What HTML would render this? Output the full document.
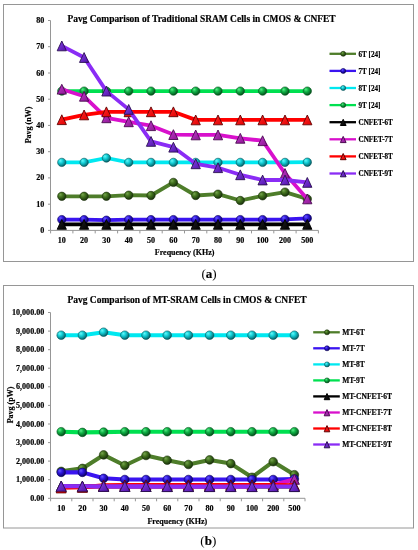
<!DOCTYPE html><html><head><meta charset="utf-8"><title>Pavg Comparison</title>
<style>html,body{margin:0;padding:0;background:#fff}svg{display:block}text{font-family:"Liberation Serif",serif;fill:#000}.b{font-weight:bold;stroke:#000;stroke-width:0.18px}</style></head><body>
<svg width="418" height="550" viewBox="0 0 418 550">
<defs>
<radialGradient id="s6" cx="0.38" cy="0.36" r="0.7" fx="0.33" fy="0.3"><stop offset="0" stop-color="#76a450"/><stop offset="0.38" stop-color="#44741f"/><stop offset="0.75" stop-color="#264812"/><stop offset="1" stop-color="#142808"/></radialGradient>
<radialGradient id="s7" cx="0.38" cy="0.36" r="0.7" fx="0.33" fy="0.3"><stop offset="0" stop-color="#6a5aff"/><stop offset="0.38" stop-color="#3018e0"/><stop offset="0.75" stop-color="#180890"/><stop offset="1" stop-color="#080240"/></radialGradient>
<radialGradient id="s8" cx="0.38" cy="0.36" r="0.7" fx="0.33" fy="0.3"><stop offset="0" stop-color="#66f8f8"/><stop offset="0.38" stop-color="#14d0d8"/><stop offset="0.75" stop-color="#0a8890"/><stop offset="1" stop-color="#044850"/></radialGradient>
<radialGradient id="s9" cx="0.38" cy="0.36" r="0.7" fx="0.33" fy="0.3"><stop offset="0" stop-color="#5cec8a"/><stop offset="0.38" stop-color="#10b446"/><stop offset="0.75" stop-color="#08702a"/><stop offset="1" stop-color="#043412"/></radialGradient>
<linearGradient id="t6" x1="0" y1="0" x2="1" y2="1"><stop offset="0" stop-color="#222"/><stop offset="1" stop-color="#000"/></linearGradient>
<linearGradient id="t7" x1="0" y1="0" x2="1" y2="1"><stop offset="0" stop-color="#c53bd0"/><stop offset="1" stop-color="#8a1590"/></linearGradient>
<linearGradient id="t8" x1="0" y1="0" x2="1" y2="1"><stop offset="0" stop-color="#ff2a2a"/><stop offset="1" stop-color="#e00000"/></linearGradient>
<linearGradient id="t9" x1="0" y1="0" x2="1" y2="1"><stop offset="0" stop-color="#8844e8"/><stop offset="1" stop-color="#5012a8"/></linearGradient>
</defs>
<rect width="418" height="550" fill="#fff"/>
<rect x="3.5" y="4.5" width="410.0" height="257.0" fill="#fff" stroke="#969696" stroke-width="1"/>
<text class="b" x="67.4" y="22.1" font-size="9.46">Pavg Comparison of Traditional SRAM Cells in CMOS &amp; CNFET</text>
<path d="M50.5 20.5V230.4H318.4" fill="none" stroke="#969696" stroke-width="1"/>
<path d="M48.0 230.4H50.5" stroke="#969696" stroke-width="1"/>
<text class="b" x="44.3" y="232.9" font-size="8.1" text-anchor="end">0</text>
<path d="M48.0 204.2H50.5" stroke="#969696" stroke-width="1"/>
<text class="b" x="44.3" y="206.7" font-size="8.1" text-anchor="end">10</text>
<path d="M48.0 177.9H50.5" stroke="#969696" stroke-width="1"/>
<text class="b" x="44.3" y="180.4" font-size="8.1" text-anchor="end">20</text>
<path d="M48.0 151.7H50.5" stroke="#969696" stroke-width="1"/>
<text class="b" x="44.3" y="154.2" font-size="8.1" text-anchor="end">30</text>
<path d="M48.0 125.4H50.5" stroke="#969696" stroke-width="1"/>
<text class="b" x="44.3" y="127.9" font-size="8.1" text-anchor="end">40</text>
<path d="M48.0 99.2H50.5" stroke="#969696" stroke-width="1"/>
<text class="b" x="44.3" y="101.7" font-size="8.1" text-anchor="end">50</text>
<path d="M48.0 73.0H50.5" stroke="#969696" stroke-width="1"/>
<text class="b" x="44.3" y="75.5" font-size="8.1" text-anchor="end">60</text>
<path d="M48.0 46.7H50.5" stroke="#969696" stroke-width="1"/>
<text class="b" x="44.3" y="49.2" font-size="8.1" text-anchor="end">70</text>
<path d="M48.0 20.5H50.5" stroke="#969696" stroke-width="1"/>
<text class="b" x="44.3" y="23.0" font-size="8.1" text-anchor="end">80</text>
<path d="M50.6 230.4v3" stroke="#969696" stroke-width="1"/>
<path d="M72.9 230.4v3" stroke="#969696" stroke-width="1"/>
<path d="M95.2 230.4v3" stroke="#969696" stroke-width="1"/>
<path d="M117.6 230.4v3" stroke="#969696" stroke-width="1"/>
<path d="M139.9 230.4v3" stroke="#969696" stroke-width="1"/>
<path d="M162.2 230.4v3" stroke="#969696" stroke-width="1"/>
<path d="M184.5 230.4v3" stroke="#969696" stroke-width="1"/>
<path d="M206.8 230.4v3" stroke="#969696" stroke-width="1"/>
<path d="M229.2 230.4v3" stroke="#969696" stroke-width="1"/>
<path d="M251.5 230.4v3" stroke="#969696" stroke-width="1"/>
<path d="M273.8 230.4v3" stroke="#969696" stroke-width="1"/>
<path d="M296.1 230.4v3" stroke="#969696" stroke-width="1"/>
<path d="M318.4 230.4v3" stroke="#969696" stroke-width="1"/>
<text class="b" x="61.8" y="242.9" font-size="8.1" text-anchor="middle">10</text>
<text class="b" x="84.1" y="242.9" font-size="8.1" text-anchor="middle">20</text>
<text class="b" x="106.4" y="242.9" font-size="8.1" text-anchor="middle">30</text>
<text class="b" x="128.7" y="242.9" font-size="8.1" text-anchor="middle">40</text>
<text class="b" x="151.0" y="242.9" font-size="8.1" text-anchor="middle">50</text>
<text class="b" x="173.4" y="242.9" font-size="8.1" text-anchor="middle">60</text>
<text class="b" x="195.7" y="242.9" font-size="8.1" text-anchor="middle">70</text>
<text class="b" x="218.0" y="242.9" font-size="8.1" text-anchor="middle">80</text>
<text class="b" x="240.3" y="242.9" font-size="8.1" text-anchor="middle">90</text>
<text class="b" x="262.6" y="242.9" font-size="8.1" text-anchor="middle">100</text>
<text class="b" x="285.0" y="242.9" font-size="8.1" text-anchor="middle">200</text>
<text class="b" x="307.3" y="242.9" font-size="8.1" text-anchor="middle">500</text>
<text class="b" x="184.6" y="255.1" font-size="8" text-anchor="middle">Frequency (KHz)</text>
<text class="b" transform="translate(31 125) rotate(-90)" font-size="8" text-anchor="middle">Pavg (nW)</text>
<path d="M61.8 196.3L84.1 196.3L106.4 196.3L128.7 195.2L151.0 195.5L173.4 182.4L195.7 195.5L218.0 194.2L240.3 200.5L262.6 195.8L285.0 192.1L307.3 198.9" fill="none" stroke="#4e7d2a" stroke-width="3.8" stroke-linejoin="round" stroke-linecap="round"/>
<circle cx="61.8" cy="196.3" r="4.2" fill="url(#s6)" stroke="#1c300c" stroke-width="0.6"/>
<circle cx="84.1" cy="196.3" r="4.2" fill="url(#s6)" stroke="#1c300c" stroke-width="0.6"/>
<circle cx="106.4" cy="196.3" r="4.2" fill="url(#s6)" stroke="#1c300c" stroke-width="0.6"/>
<circle cx="128.7" cy="195.2" r="4.2" fill="url(#s6)" stroke="#1c300c" stroke-width="0.6"/>
<circle cx="151.0" cy="195.5" r="4.2" fill="url(#s6)" stroke="#1c300c" stroke-width="0.6"/>
<circle cx="173.4" cy="182.4" r="4.2" fill="url(#s6)" stroke="#1c300c" stroke-width="0.6"/>
<circle cx="195.7" cy="195.5" r="4.2" fill="url(#s6)" stroke="#1c300c" stroke-width="0.6"/>
<circle cx="218.0" cy="194.2" r="4.2" fill="url(#s6)" stroke="#1c300c" stroke-width="0.6"/>
<circle cx="240.3" cy="200.5" r="4.2" fill="url(#s6)" stroke="#1c300c" stroke-width="0.6"/>
<circle cx="262.6" cy="195.8" r="4.2" fill="url(#s6)" stroke="#1c300c" stroke-width="0.6"/>
<circle cx="285.0" cy="192.1" r="4.2" fill="url(#s6)" stroke="#1c300c" stroke-width="0.6"/>
<circle cx="307.3" cy="198.9" r="4.2" fill="url(#s6)" stroke="#1c300c" stroke-width="0.6"/>
<path d="M61.8 219.6L84.1 219.6L106.4 220.2L128.7 219.6L151.0 219.6L173.4 219.6L195.7 219.6L218.0 219.6L240.3 219.6L262.6 219.6L285.0 219.4L307.3 218.3" fill="none" stroke="#3a14f0" stroke-width="3.8" stroke-linejoin="round" stroke-linecap="round"/>
<circle cx="61.8" cy="219.6" r="4.2" fill="url(#s7)" stroke="#0c0460" stroke-width="0.6"/>
<circle cx="84.1" cy="219.6" r="4.2" fill="url(#s7)" stroke="#0c0460" stroke-width="0.6"/>
<circle cx="106.4" cy="220.2" r="4.2" fill="url(#s7)" stroke="#0c0460" stroke-width="0.6"/>
<circle cx="128.7" cy="219.6" r="4.2" fill="url(#s7)" stroke="#0c0460" stroke-width="0.6"/>
<circle cx="151.0" cy="219.6" r="4.2" fill="url(#s7)" stroke="#0c0460" stroke-width="0.6"/>
<circle cx="173.4" cy="219.6" r="4.2" fill="url(#s7)" stroke="#0c0460" stroke-width="0.6"/>
<circle cx="195.7" cy="219.6" r="4.2" fill="url(#s7)" stroke="#0c0460" stroke-width="0.6"/>
<circle cx="218.0" cy="219.6" r="4.2" fill="url(#s7)" stroke="#0c0460" stroke-width="0.6"/>
<circle cx="240.3" cy="219.6" r="4.2" fill="url(#s7)" stroke="#0c0460" stroke-width="0.6"/>
<circle cx="262.6" cy="219.6" r="4.2" fill="url(#s7)" stroke="#0c0460" stroke-width="0.6"/>
<circle cx="285.0" cy="219.4" r="4.2" fill="url(#s7)" stroke="#0c0460" stroke-width="0.6"/>
<circle cx="307.3" cy="218.3" r="4.2" fill="url(#s7)" stroke="#0c0460" stroke-width="0.6"/>
<path d="M61.8 162.4L84.1 162.4L106.4 158.0L128.7 162.4L151.0 162.4L173.4 162.4L195.7 162.4L218.0 162.4L240.3 162.4L262.6 162.4L285.0 162.4L307.3 162.2" fill="none" stroke="#00e8f0" stroke-width="3.8" stroke-linejoin="round" stroke-linecap="round"/>
<circle cx="61.8" cy="162.4" r="4.2" fill="url(#s8)" stroke="#065a60" stroke-width="0.6"/>
<circle cx="84.1" cy="162.4" r="4.2" fill="url(#s8)" stroke="#065a60" stroke-width="0.6"/>
<circle cx="106.4" cy="158.0" r="4.2" fill="url(#s8)" stroke="#065a60" stroke-width="0.6"/>
<circle cx="128.7" cy="162.4" r="4.2" fill="url(#s8)" stroke="#065a60" stroke-width="0.6"/>
<circle cx="151.0" cy="162.4" r="4.2" fill="url(#s8)" stroke="#065a60" stroke-width="0.6"/>
<circle cx="173.4" cy="162.4" r="4.2" fill="url(#s8)" stroke="#065a60" stroke-width="0.6"/>
<circle cx="195.7" cy="162.4" r="4.2" fill="url(#s8)" stroke="#065a60" stroke-width="0.6"/>
<circle cx="218.0" cy="162.4" r="4.2" fill="url(#s8)" stroke="#065a60" stroke-width="0.6"/>
<circle cx="240.3" cy="162.4" r="4.2" fill="url(#s8)" stroke="#065a60" stroke-width="0.6"/>
<circle cx="262.6" cy="162.4" r="4.2" fill="url(#s8)" stroke="#065a60" stroke-width="0.6"/>
<circle cx="285.0" cy="162.4" r="4.2" fill="url(#s8)" stroke="#065a60" stroke-width="0.6"/>
<circle cx="307.3" cy="162.2" r="4.2" fill="url(#s8)" stroke="#065a60" stroke-width="0.6"/>
<path d="M61.8 91.1L84.1 91.1L106.4 91.1L128.7 91.1L151.0 91.1L173.4 91.1L195.7 91.1L218.0 91.1L240.3 91.1L262.6 91.1L285.0 91.1L307.3 91.1" fill="none" stroke="#00e050" stroke-width="3.8" stroke-linejoin="round" stroke-linecap="round"/>
<circle cx="61.8" cy="91.1" r="4.2" fill="url(#s9)" stroke="#075a20" stroke-width="0.6"/>
<circle cx="84.1" cy="91.1" r="4.2" fill="url(#s9)" stroke="#075a20" stroke-width="0.6"/>
<circle cx="106.4" cy="91.1" r="4.2" fill="url(#s9)" stroke="#075a20" stroke-width="0.6"/>
<circle cx="128.7" cy="91.1" r="4.2" fill="url(#s9)" stroke="#075a20" stroke-width="0.6"/>
<circle cx="151.0" cy="91.1" r="4.2" fill="url(#s9)" stroke="#075a20" stroke-width="0.6"/>
<circle cx="173.4" cy="91.1" r="4.2" fill="url(#s9)" stroke="#075a20" stroke-width="0.6"/>
<circle cx="195.7" cy="91.1" r="4.2" fill="url(#s9)" stroke="#075a20" stroke-width="0.6"/>
<circle cx="218.0" cy="91.1" r="4.2" fill="url(#s9)" stroke="#075a20" stroke-width="0.6"/>
<circle cx="240.3" cy="91.1" r="4.2" fill="url(#s9)" stroke="#075a20" stroke-width="0.6"/>
<circle cx="262.6" cy="91.1" r="4.2" fill="url(#s9)" stroke="#075a20" stroke-width="0.6"/>
<circle cx="285.0" cy="91.1" r="4.2" fill="url(#s9)" stroke="#075a20" stroke-width="0.6"/>
<circle cx="307.3" cy="91.1" r="4.2" fill="url(#s9)" stroke="#075a20" stroke-width="0.6"/>
<path d="M61.8 224.4L84.1 224.4L106.4 224.4L128.7 224.4L151.0 224.4L173.4 224.4L195.7 224.4L218.0 224.4L240.3 224.4L262.6 224.4L285.0 224.4L307.3 224.4" fill="none" stroke="#000000" stroke-width="3.8" stroke-linejoin="round" stroke-linecap="round"/>
<path d="M61.8 219.5L66.4 229.3L57.2 229.3Z" fill="url(#t6)" stroke="#000" stroke-width="0.9" stroke-linejoin="miter"/>
<path d="M84.1 219.5L88.7 229.3L79.5 229.3Z" fill="url(#t6)" stroke="#000" stroke-width="0.9" stroke-linejoin="miter"/>
<path d="M106.4 219.5L111.0 229.3L101.8 229.3Z" fill="url(#t6)" stroke="#000" stroke-width="0.9" stroke-linejoin="miter"/>
<path d="M128.7 219.5L133.3 229.3L124.1 229.3Z" fill="url(#t6)" stroke="#000" stroke-width="0.9" stroke-linejoin="miter"/>
<path d="M151.0 219.5L155.6 229.3L146.4 229.3Z" fill="url(#t6)" stroke="#000" stroke-width="0.9" stroke-linejoin="miter"/>
<path d="M173.4 219.5L178.0 229.3L168.8 229.3Z" fill="url(#t6)" stroke="#000" stroke-width="0.9" stroke-linejoin="miter"/>
<path d="M195.7 219.5L200.3 229.3L191.1 229.3Z" fill="url(#t6)" stroke="#000" stroke-width="0.9" stroke-linejoin="miter"/>
<path d="M218.0 219.5L222.6 229.3L213.4 229.3Z" fill="url(#t6)" stroke="#000" stroke-width="0.9" stroke-linejoin="miter"/>
<path d="M240.3 219.5L244.9 229.3L235.7 229.3Z" fill="url(#t6)" stroke="#000" stroke-width="0.9" stroke-linejoin="miter"/>
<path d="M262.6 219.5L267.2 229.3L258.0 229.3Z" fill="url(#t6)" stroke="#000" stroke-width="0.9" stroke-linejoin="miter"/>
<path d="M285.0 219.5L289.6 229.3L280.4 229.3Z" fill="url(#t6)" stroke="#000" stroke-width="0.9" stroke-linejoin="miter"/>
<path d="M307.3 219.5L311.9 229.3L302.7 229.3Z" fill="url(#t6)" stroke="#000" stroke-width="0.9" stroke-linejoin="miter"/>
<path d="M61.8 89.2L84.1 96.3L106.4 117.8L128.7 121.8L151.0 125.7L173.4 134.6L195.7 134.9L218.0 134.9L240.3 138.3L262.6 140.7L285.0 173.5L307.3 198.9" fill="none" stroke="#d810cc" stroke-width="3.8" stroke-linejoin="round" stroke-linecap="round"/>
<path d="M61.8 84.3L66.4 94.1L57.2 94.1Z" fill="url(#t7)" stroke="#4a0a50" stroke-width="0.9" stroke-linejoin="miter"/>
<path d="M84.1 91.4L88.7 101.2L79.5 101.2Z" fill="url(#t7)" stroke="#4a0a50" stroke-width="0.9" stroke-linejoin="miter"/>
<path d="M106.4 112.9L111.0 122.7L101.8 122.7Z" fill="url(#t7)" stroke="#4a0a50" stroke-width="0.9" stroke-linejoin="miter"/>
<path d="M128.7 116.9L133.3 126.7L124.1 126.7Z" fill="url(#t7)" stroke="#4a0a50" stroke-width="0.9" stroke-linejoin="miter"/>
<path d="M151.0 120.8L155.6 130.6L146.4 130.6Z" fill="url(#t7)" stroke="#4a0a50" stroke-width="0.9" stroke-linejoin="miter"/>
<path d="M173.4 129.7L178.0 139.5L168.8 139.5Z" fill="url(#t7)" stroke="#4a0a50" stroke-width="0.9" stroke-linejoin="miter"/>
<path d="M195.7 130.0L200.3 139.8L191.1 139.8Z" fill="url(#t7)" stroke="#4a0a50" stroke-width="0.9" stroke-linejoin="miter"/>
<path d="M218.0 130.0L222.6 139.8L213.4 139.8Z" fill="url(#t7)" stroke="#4a0a50" stroke-width="0.9" stroke-linejoin="miter"/>
<path d="M240.3 133.4L244.9 143.2L235.7 143.2Z" fill="url(#t7)" stroke="#4a0a50" stroke-width="0.9" stroke-linejoin="miter"/>
<path d="M262.6 135.8L267.2 145.6L258.0 145.6Z" fill="url(#t7)" stroke="#4a0a50" stroke-width="0.9" stroke-linejoin="miter"/>
<path d="M285.0 168.6L289.6 178.4L280.4 178.4Z" fill="url(#t7)" stroke="#4a0a50" stroke-width="0.9" stroke-linejoin="miter"/>
<path d="M307.3 194.0L311.9 203.8L302.7 203.8Z" fill="url(#t7)" stroke="#4a0a50" stroke-width="0.9" stroke-linejoin="miter"/>
<path d="M61.8 119.7L84.1 114.9L106.4 111.8L128.7 111.8L151.0 111.8L173.4 111.8L195.7 119.9L218.0 119.9L240.3 119.9L262.6 119.9L285.0 119.9L307.3 119.9" fill="none" stroke="#ff0000" stroke-width="3.8" stroke-linejoin="round" stroke-linecap="round"/>
<path d="M61.8 114.8L66.4 124.6L57.2 124.6Z" fill="url(#t8)" stroke="#600000" stroke-width="0.9" stroke-linejoin="miter"/>
<path d="M84.1 110.0L88.7 119.8L79.5 119.8Z" fill="url(#t8)" stroke="#600000" stroke-width="0.9" stroke-linejoin="miter"/>
<path d="M106.4 106.9L111.0 116.7L101.8 116.7Z" fill="url(#t8)" stroke="#600000" stroke-width="0.9" stroke-linejoin="miter"/>
<path d="M128.7 106.9L133.3 116.7L124.1 116.7Z" fill="url(#t8)" stroke="#600000" stroke-width="0.9" stroke-linejoin="miter"/>
<path d="M151.0 106.9L155.6 116.7L146.4 116.7Z" fill="url(#t8)" stroke="#600000" stroke-width="0.9" stroke-linejoin="miter"/>
<path d="M173.4 106.9L178.0 116.7L168.8 116.7Z" fill="url(#t8)" stroke="#600000" stroke-width="0.9" stroke-linejoin="miter"/>
<path d="M195.7 115.0L200.3 124.8L191.1 124.8Z" fill="url(#t8)" stroke="#600000" stroke-width="0.9" stroke-linejoin="miter"/>
<path d="M218.0 115.0L222.6 124.8L213.4 124.8Z" fill="url(#t8)" stroke="#600000" stroke-width="0.9" stroke-linejoin="miter"/>
<path d="M240.3 115.0L244.9 124.8L235.7 124.8Z" fill="url(#t8)" stroke="#600000" stroke-width="0.9" stroke-linejoin="miter"/>
<path d="M262.6 115.0L267.2 124.8L258.0 124.8Z" fill="url(#t8)" stroke="#600000" stroke-width="0.9" stroke-linejoin="miter"/>
<path d="M285.0 115.0L289.6 124.8L280.4 124.8Z" fill="url(#t8)" stroke="#600000" stroke-width="0.9" stroke-linejoin="miter"/>
<path d="M307.3 115.0L311.9 124.8L302.7 124.8Z" fill="url(#t8)" stroke="#600000" stroke-width="0.9" stroke-linejoin="miter"/>
<path d="M61.8 45.9L84.1 57.5L106.4 91.1L128.7 109.4L151.0 141.4L173.4 147.2L195.7 163.8L218.0 167.7L240.3 174.8L262.6 180.0L285.0 180.0L307.3 182.4" fill="none" stroke="#8a2cf5" stroke-width="3.8" stroke-linejoin="round" stroke-linecap="round"/>
<path d="M61.8 41.0L66.4 50.8L57.2 50.8Z" fill="url(#t9)" stroke="#2a1050" stroke-width="0.9" stroke-linejoin="miter"/>
<path d="M84.1 52.6L88.7 62.4L79.5 62.4Z" fill="url(#t9)" stroke="#2a1050" stroke-width="0.9" stroke-linejoin="miter"/>
<path d="M106.4 86.2L111.0 96.0L101.8 96.0Z" fill="url(#t9)" stroke="#2a1050" stroke-width="0.9" stroke-linejoin="miter"/>
<path d="M128.7 104.5L133.3 114.3L124.1 114.3Z" fill="url(#t9)" stroke="#2a1050" stroke-width="0.9" stroke-linejoin="miter"/>
<path d="M151.0 136.5L155.6 146.3L146.4 146.3Z" fill="url(#t9)" stroke="#2a1050" stroke-width="0.9" stroke-linejoin="miter"/>
<path d="M173.4 142.3L178.0 152.1L168.8 152.1Z" fill="url(#t9)" stroke="#2a1050" stroke-width="0.9" stroke-linejoin="miter"/>
<path d="M195.7 158.9L200.3 168.7L191.1 168.7Z" fill="url(#t9)" stroke="#2a1050" stroke-width="0.9" stroke-linejoin="miter"/>
<path d="M218.0 162.8L222.6 172.6L213.4 172.6Z" fill="url(#t9)" stroke="#2a1050" stroke-width="0.9" stroke-linejoin="miter"/>
<path d="M240.3 169.9L244.9 179.7L235.7 179.7Z" fill="url(#t9)" stroke="#2a1050" stroke-width="0.9" stroke-linejoin="miter"/>
<path d="M262.6 175.1L267.2 184.9L258.0 184.9Z" fill="url(#t9)" stroke="#2a1050" stroke-width="0.9" stroke-linejoin="miter"/>
<path d="M285.0 175.1L289.6 184.9L280.4 184.9Z" fill="url(#t9)" stroke="#2a1050" stroke-width="0.9" stroke-linejoin="miter"/>
<path d="M307.3 177.5L311.9 187.3L302.7 187.3Z" fill="url(#t9)" stroke="#2a1050" stroke-width="0.9" stroke-linejoin="miter"/>
<path d="M329.5 53.8H356" stroke="#4e7d2a" stroke-width="2.3"/>
<circle cx="343.2" cy="53.8" r="2.5" fill="url(#s6)" stroke="#1c300c" stroke-width="0.6"/>
<text class="b" transform="translate(358.5 56.6) scale(0.957 1)" font-size="7.5">6T [24]</text>
<path d="M329.5 70.9H356" stroke="#3a14f0" stroke-width="2.3"/>
<circle cx="343.2" cy="70.9" r="2.5" fill="url(#s7)" stroke="#0c0460" stroke-width="0.6"/>
<text class="b" transform="translate(358.5 73.7) scale(0.957 1)" font-size="7.5">7T [24]</text>
<path d="M329.5 88.0H356" stroke="#00e8f0" stroke-width="2.3"/>
<circle cx="343.2" cy="88.0" r="2.5" fill="url(#s8)" stroke="#065a60" stroke-width="0.6"/>
<text class="b" transform="translate(358.5 90.8) scale(0.957 1)" font-size="7.5">8T [24]</text>
<path d="M329.5 105.1H356" stroke="#00e050" stroke-width="2.3"/>
<circle cx="343.2" cy="105.1" r="2.5" fill="url(#s9)" stroke="#075a20" stroke-width="0.6"/>
<text class="b" transform="translate(358.5 107.9) scale(0.957 1)" font-size="7.5">9T [24]</text>
<path d="M329.5 122.2H356" stroke="#000000" stroke-width="2.3"/>
<path d="M343.2 119.3L346.1 125.5L340.4 125.5Z" fill="url(#t6)" stroke="#000" stroke-width="1.0" stroke-linejoin="miter"/>
<text class="b" transform="translate(358.5 125.0) scale(0.957 1)" font-size="7.5">CNFET-6T</text>
<path d="M329.5 139.3H356" stroke="#d810cc" stroke-width="2.3"/>
<path d="M343.2 136.4L346.1 142.6L340.4 142.6Z" fill="url(#t7)" stroke="#4a0a50" stroke-width="1.0" stroke-linejoin="miter"/>
<text class="b" transform="translate(358.5 142.1) scale(0.957 1)" font-size="7.5">CNFET-7T</text>
<path d="M329.5 156.4H356" stroke="#ff0000" stroke-width="2.3"/>
<path d="M343.2 153.5L346.1 159.7L340.4 159.7Z" fill="url(#t8)" stroke="#600000" stroke-width="1.0" stroke-linejoin="miter"/>
<text class="b" transform="translate(358.5 159.2) scale(0.957 1)" font-size="7.5">CNFET-8T</text>
<path d="M329.5 173.5H356" stroke="#8a2cf5" stroke-width="2.3"/>
<path d="M343.2 170.6L346.1 176.8L340.4 176.8Z" fill="url(#t9)" stroke="#2a1050" stroke-width="1.0" stroke-linejoin="miter"/>
<text class="b" transform="translate(358.5 176.3) scale(0.957 1)" font-size="7.5">CNFET-9T</text>
<text x="209" y="278.4" font-size="13" text-anchor="middle">(<tspan class="b">a</tspan>)</text>
<rect x="3.5" y="285.5" width="410.0" height="242.5" fill="#fff" stroke="#969696" stroke-width="1"/>
<text class="b" x="67.4" y="302.8" font-size="9.5">Pavg Comparison of MT-SRAM Cells in CMOS &amp; CNFET</text>
<path d="M50.5 312.5V498.3H305.0" fill="none" stroke="#969696" stroke-width="1"/>
<path d="M48.0 498.3H50.5" stroke="#969696" stroke-width="1"/>
<text class="b" x="44.3" y="500.8" font-size="8.1" text-anchor="end">0.00</text>
<path d="M48.0 479.7H50.5" stroke="#969696" stroke-width="1"/>
<text class="b" x="44.3" y="482.2" font-size="8.1" text-anchor="end">1,000.00</text>
<path d="M48.0 461.1H50.5" stroke="#969696" stroke-width="1"/>
<text class="b" x="44.3" y="463.6" font-size="8.1" text-anchor="end">2,000.00</text>
<path d="M48.0 442.6H50.5" stroke="#969696" stroke-width="1"/>
<text class="b" x="44.3" y="445.1" font-size="8.1" text-anchor="end">3,000.00</text>
<path d="M48.0 424.0H50.5" stroke="#969696" stroke-width="1"/>
<text class="b" x="44.3" y="426.5" font-size="8.1" text-anchor="end">4,000.00</text>
<path d="M48.0 405.4H50.5" stroke="#969696" stroke-width="1"/>
<text class="b" x="44.3" y="407.9" font-size="8.1" text-anchor="end">5,000.00</text>
<path d="M48.0 386.8H50.5" stroke="#969696" stroke-width="1"/>
<text class="b" x="44.3" y="389.3" font-size="8.1" text-anchor="end">6,000.00</text>
<path d="M48.0 368.2H50.5" stroke="#969696" stroke-width="1"/>
<text class="b" x="44.3" y="370.7" font-size="8.1" text-anchor="end">7,000.00</text>
<path d="M48.0 349.7H50.5" stroke="#969696" stroke-width="1"/>
<text class="b" x="44.3" y="352.2" font-size="8.1" text-anchor="end">8,000.00</text>
<path d="M48.0 331.1H50.5" stroke="#969696" stroke-width="1"/>
<text class="b" x="44.3" y="333.6" font-size="8.1" text-anchor="end">9,000.00</text>
<path d="M48.0 312.5H50.5" stroke="#969696" stroke-width="1"/>
<text class="b" x="44.3" y="315.0" font-size="8.1" text-anchor="end">10,000.00</text>
<path d="M50.6 498.3v3" stroke="#969696" stroke-width="1"/>
<path d="M71.8 498.3v3" stroke="#969696" stroke-width="1"/>
<path d="M93.0 498.3v3" stroke="#969696" stroke-width="1"/>
<path d="M114.2 498.3v3" stroke="#969696" stroke-width="1"/>
<path d="M135.4 498.3v3" stroke="#969696" stroke-width="1"/>
<path d="M156.6 498.3v3" stroke="#969696" stroke-width="1"/>
<path d="M177.8 498.3v3" stroke="#969696" stroke-width="1"/>
<path d="M199.0 498.3v3" stroke="#969696" stroke-width="1"/>
<path d="M220.2 498.3v3" stroke="#969696" stroke-width="1"/>
<path d="M241.4 498.3v3" stroke="#969696" stroke-width="1"/>
<path d="M262.6 498.3v3" stroke="#969696" stroke-width="1"/>
<path d="M283.8 498.3v3" stroke="#969696" stroke-width="1"/>
<path d="M305.0 498.3v3" stroke="#969696" stroke-width="1"/>
<text class="b" x="61.2" y="511" font-size="8.1" text-anchor="middle">10</text>
<text class="b" x="82.4" y="511" font-size="8.1" text-anchor="middle">20</text>
<text class="b" x="103.6" y="511" font-size="8.1" text-anchor="middle">30</text>
<text class="b" x="124.8" y="511" font-size="8.1" text-anchor="middle">40</text>
<text class="b" x="146.0" y="511" font-size="8.1" text-anchor="middle">50</text>
<text class="b" x="167.2" y="511" font-size="8.1" text-anchor="middle">60</text>
<text class="b" x="188.4" y="511" font-size="8.1" text-anchor="middle">70</text>
<text class="b" x="209.6" y="511" font-size="8.1" text-anchor="middle">80</text>
<text class="b" x="230.8" y="511" font-size="8.1" text-anchor="middle">90</text>
<text class="b" x="252.0" y="511" font-size="8.1" text-anchor="middle">100</text>
<text class="b" x="273.2" y="511" font-size="8.1" text-anchor="middle">200</text>
<text class="b" x="294.4" y="511" font-size="8.1" text-anchor="middle">500</text>
<text class="b" x="177.3" y="523.7" font-size="8" text-anchor="middle">Frequency (KHz)</text>
<text class="b" transform="translate(13 405) rotate(-90)" font-size="8" text-anchor="middle">Pavg (pW)</text>
<path d="M61.2 471.4L82.4 468.4L103.6 454.9L124.8 465.5L146.0 455.5L167.2 460.2L188.4 464.5L209.6 459.9L230.8 463.6L252.0 477.3L273.2 461.7L294.4 474.7" fill="none" stroke="#4e7d2a" stroke-width="4.1" stroke-linejoin="round" stroke-linecap="round"/>
<circle cx="61.2" cy="471.4" r="4.3" fill="url(#s6)" stroke="#1c300c" stroke-width="0.6"/>
<circle cx="82.4" cy="468.4" r="4.3" fill="url(#s6)" stroke="#1c300c" stroke-width="0.6"/>
<circle cx="103.6" cy="454.9" r="4.3" fill="url(#s6)" stroke="#1c300c" stroke-width="0.6"/>
<circle cx="124.8" cy="465.5" r="4.3" fill="url(#s6)" stroke="#1c300c" stroke-width="0.6"/>
<circle cx="146.0" cy="455.5" r="4.3" fill="url(#s6)" stroke="#1c300c" stroke-width="0.6"/>
<circle cx="167.2" cy="460.2" r="4.3" fill="url(#s6)" stroke="#1c300c" stroke-width="0.6"/>
<circle cx="188.4" cy="464.5" r="4.3" fill="url(#s6)" stroke="#1c300c" stroke-width="0.6"/>
<circle cx="209.6" cy="459.9" r="4.3" fill="url(#s6)" stroke="#1c300c" stroke-width="0.6"/>
<circle cx="230.8" cy="463.6" r="4.3" fill="url(#s6)" stroke="#1c300c" stroke-width="0.6"/>
<circle cx="252.0" cy="477.3" r="4.3" fill="url(#s6)" stroke="#1c300c" stroke-width="0.6"/>
<circle cx="273.2" cy="461.7" r="4.3" fill="url(#s6)" stroke="#1c300c" stroke-width="0.6"/>
<circle cx="294.4" cy="474.7" r="4.3" fill="url(#s6)" stroke="#1c300c" stroke-width="0.6"/>
<path d="M61.2 472.4L82.4 472.4L103.6 478.3L124.8 479.5L146.0 479.5L167.2 479.5L188.4 479.5L209.6 479.5L230.8 479.5L252.0 479.5L273.2 479.5L294.4 479.0" fill="none" stroke="#3a14f0" stroke-width="4.1" stroke-linejoin="round" stroke-linecap="round"/>
<circle cx="61.2" cy="472.4" r="4.3" fill="url(#s7)" stroke="#0c0460" stroke-width="0.6"/>
<circle cx="82.4" cy="472.4" r="4.3" fill="url(#s7)" stroke="#0c0460" stroke-width="0.6"/>
<circle cx="103.6" cy="478.3" r="4.3" fill="url(#s7)" stroke="#0c0460" stroke-width="0.6"/>
<circle cx="124.8" cy="479.5" r="4.3" fill="url(#s7)" stroke="#0c0460" stroke-width="0.6"/>
<circle cx="146.0" cy="479.5" r="4.3" fill="url(#s7)" stroke="#0c0460" stroke-width="0.6"/>
<circle cx="167.2" cy="479.5" r="4.3" fill="url(#s7)" stroke="#0c0460" stroke-width="0.6"/>
<circle cx="188.4" cy="479.5" r="4.3" fill="url(#s7)" stroke="#0c0460" stroke-width="0.6"/>
<circle cx="209.6" cy="479.5" r="4.3" fill="url(#s7)" stroke="#0c0460" stroke-width="0.6"/>
<circle cx="230.8" cy="479.5" r="4.3" fill="url(#s7)" stroke="#0c0460" stroke-width="0.6"/>
<circle cx="252.0" cy="479.5" r="4.3" fill="url(#s7)" stroke="#0c0460" stroke-width="0.6"/>
<circle cx="273.2" cy="479.5" r="4.3" fill="url(#s7)" stroke="#0c0460" stroke-width="0.6"/>
<circle cx="294.4" cy="479.0" r="4.3" fill="url(#s7)" stroke="#0c0460" stroke-width="0.6"/>
<path d="M61.2 335.2L82.4 335.2L103.6 332.2L124.8 335.2L146.0 335.2L167.2 335.2L188.4 335.2L209.6 335.2L230.8 335.2L252.0 335.2L273.2 335.2L294.4 335.2" fill="none" stroke="#00e8f0" stroke-width="4.1" stroke-linejoin="round" stroke-linecap="round"/>
<circle cx="61.2" cy="335.2" r="4.3" fill="url(#s8)" stroke="#065a60" stroke-width="0.6"/>
<circle cx="82.4" cy="335.2" r="4.3" fill="url(#s8)" stroke="#065a60" stroke-width="0.6"/>
<circle cx="103.6" cy="332.2" r="4.3" fill="url(#s8)" stroke="#065a60" stroke-width="0.6"/>
<circle cx="124.8" cy="335.2" r="4.3" fill="url(#s8)" stroke="#065a60" stroke-width="0.6"/>
<circle cx="146.0" cy="335.2" r="4.3" fill="url(#s8)" stroke="#065a60" stroke-width="0.6"/>
<circle cx="167.2" cy="335.2" r="4.3" fill="url(#s8)" stroke="#065a60" stroke-width="0.6"/>
<circle cx="188.4" cy="335.2" r="4.3" fill="url(#s8)" stroke="#065a60" stroke-width="0.6"/>
<circle cx="209.6" cy="335.2" r="4.3" fill="url(#s8)" stroke="#065a60" stroke-width="0.6"/>
<circle cx="230.8" cy="335.2" r="4.3" fill="url(#s8)" stroke="#065a60" stroke-width="0.6"/>
<circle cx="252.0" cy="335.2" r="4.3" fill="url(#s8)" stroke="#065a60" stroke-width="0.6"/>
<circle cx="273.2" cy="335.2" r="4.3" fill="url(#s8)" stroke="#065a60" stroke-width="0.6"/>
<circle cx="294.4" cy="335.2" r="4.3" fill="url(#s8)" stroke="#065a60" stroke-width="0.6"/>
<path d="M61.2 431.7L82.4 432.4L103.6 432.1L124.8 431.7L146.0 431.7L167.2 431.7L188.4 431.7L209.6 431.7L230.8 431.7L252.0 431.7L273.2 431.7L294.4 431.7" fill="none" stroke="#00e050" stroke-width="4.1" stroke-linejoin="round" stroke-linecap="round"/>
<circle cx="61.2" cy="431.7" r="4.3" fill="url(#s9)" stroke="#075a20" stroke-width="0.6"/>
<circle cx="82.4" cy="432.4" r="4.3" fill="url(#s9)" stroke="#075a20" stroke-width="0.6"/>
<circle cx="103.6" cy="432.1" r="4.3" fill="url(#s9)" stroke="#075a20" stroke-width="0.6"/>
<circle cx="124.8" cy="431.7" r="4.3" fill="url(#s9)" stroke="#075a20" stroke-width="0.6"/>
<circle cx="146.0" cy="431.7" r="4.3" fill="url(#s9)" stroke="#075a20" stroke-width="0.6"/>
<circle cx="167.2" cy="431.7" r="4.3" fill="url(#s9)" stroke="#075a20" stroke-width="0.6"/>
<circle cx="188.4" cy="431.7" r="4.3" fill="url(#s9)" stroke="#075a20" stroke-width="0.6"/>
<circle cx="209.6" cy="431.7" r="4.3" fill="url(#s9)" stroke="#075a20" stroke-width="0.6"/>
<circle cx="230.8" cy="431.7" r="4.3" fill="url(#s9)" stroke="#075a20" stroke-width="0.6"/>
<circle cx="252.0" cy="431.7" r="4.3" fill="url(#s9)" stroke="#075a20" stroke-width="0.6"/>
<circle cx="273.2" cy="431.7" r="4.3" fill="url(#s9)" stroke="#075a20" stroke-width="0.6"/>
<circle cx="294.4" cy="431.7" r="4.3" fill="url(#s9)" stroke="#075a20" stroke-width="0.6"/>
<path d="M61.2 486.4L82.4 486.4L103.6 486.4L124.8 486.4L146.0 486.4L167.2 486.4L188.4 486.4L209.6 486.4L230.8 486.4L252.0 486.4L273.2 486.4L294.4 486.4" fill="none" stroke="#000000" stroke-width="4.1" stroke-linejoin="round" stroke-linecap="round"/>
<path d="M61.2 481.3L66.2 491.5L56.2 491.5Z" fill="url(#t6)" stroke="#000" stroke-width="0.9" stroke-linejoin="miter"/>
<path d="M82.4 481.3L87.4 491.5L77.4 491.5Z" fill="url(#t6)" stroke="#000" stroke-width="0.9" stroke-linejoin="miter"/>
<path d="M103.6 481.3L108.6 491.5L98.6 491.5Z" fill="url(#t6)" stroke="#000" stroke-width="0.9" stroke-linejoin="miter"/>
<path d="M124.8 481.3L129.8 491.5L119.8 491.5Z" fill="url(#t6)" stroke="#000" stroke-width="0.9" stroke-linejoin="miter"/>
<path d="M146.0 481.3L151.0 491.5L141.0 491.5Z" fill="url(#t6)" stroke="#000" stroke-width="0.9" stroke-linejoin="miter"/>
<path d="M167.2 481.3L172.2 491.5L162.2 491.5Z" fill="url(#t6)" stroke="#000" stroke-width="0.9" stroke-linejoin="miter"/>
<path d="M188.4 481.3L193.4 491.5L183.4 491.5Z" fill="url(#t6)" stroke="#000" stroke-width="0.9" stroke-linejoin="miter"/>
<path d="M209.6 481.3L214.6 491.5L204.6 491.5Z" fill="url(#t6)" stroke="#000" stroke-width="0.9" stroke-linejoin="miter"/>
<path d="M230.8 481.3L235.8 491.5L225.8 491.5Z" fill="url(#t6)" stroke="#000" stroke-width="0.9" stroke-linejoin="miter"/>
<path d="M252.0 481.3L257.0 491.5L247.0 491.5Z" fill="url(#t6)" stroke="#000" stroke-width="0.9" stroke-linejoin="miter"/>
<path d="M273.2 481.3L278.2 491.5L268.2 491.5Z" fill="url(#t6)" stroke="#000" stroke-width="0.9" stroke-linejoin="miter"/>
<path d="M294.4 481.3L299.4 491.5L289.4 491.5Z" fill="url(#t6)" stroke="#000" stroke-width="0.9" stroke-linejoin="miter"/>
<path d="M61.2 486.8L82.4 486.8L103.6 486.4L124.8 486.4L146.0 486.4L167.2 486.4L188.4 486.4L209.6 486.4L230.8 486.4L252.0 486.4L273.2 484.9L294.4 479.2" fill="none" stroke="#d810cc" stroke-width="4.1" stroke-linejoin="round" stroke-linecap="round"/>
<path d="M61.2 481.7L66.2 491.9L56.2 491.9Z" fill="url(#t7)" stroke="#4a0a50" stroke-width="0.9" stroke-linejoin="miter"/>
<path d="M82.4 481.7L87.4 491.9L77.4 491.9Z" fill="url(#t7)" stroke="#4a0a50" stroke-width="0.9" stroke-linejoin="miter"/>
<path d="M103.6 481.3L108.6 491.5L98.6 491.5Z" fill="url(#t7)" stroke="#4a0a50" stroke-width="0.9" stroke-linejoin="miter"/>
<path d="M124.8 481.3L129.8 491.5L119.8 491.5Z" fill="url(#t7)" stroke="#4a0a50" stroke-width="0.9" stroke-linejoin="miter"/>
<path d="M146.0 481.3L151.0 491.5L141.0 491.5Z" fill="url(#t7)" stroke="#4a0a50" stroke-width="0.9" stroke-linejoin="miter"/>
<path d="M167.2 481.3L172.2 491.5L162.2 491.5Z" fill="url(#t7)" stroke="#4a0a50" stroke-width="0.9" stroke-linejoin="miter"/>
<path d="M188.4 481.3L193.4 491.5L183.4 491.5Z" fill="url(#t7)" stroke="#4a0a50" stroke-width="0.9" stroke-linejoin="miter"/>
<path d="M209.6 481.3L214.6 491.5L204.6 491.5Z" fill="url(#t7)" stroke="#4a0a50" stroke-width="0.9" stroke-linejoin="miter"/>
<path d="M230.8 481.3L235.8 491.5L225.8 491.5Z" fill="url(#t7)" stroke="#4a0a50" stroke-width="0.9" stroke-linejoin="miter"/>
<path d="M252.0 481.3L257.0 491.5L247.0 491.5Z" fill="url(#t7)" stroke="#4a0a50" stroke-width="0.9" stroke-linejoin="miter"/>
<path d="M273.2 479.8L278.2 490.0L268.2 490.0Z" fill="url(#t7)" stroke="#4a0a50" stroke-width="0.9" stroke-linejoin="miter"/>
<path d="M294.4 474.1L299.4 484.3L289.4 484.3Z" fill="url(#t7)" stroke="#4a0a50" stroke-width="0.9" stroke-linejoin="miter"/>
<path d="M61.2 487.8L82.4 487.2L103.6 485.3L124.8 485.1L146.0 485.0L167.2 485.0L188.4 485.0L209.6 485.0L230.8 485.0L252.0 485.0L273.2 485.0L294.4 485.3" fill="none" stroke="#ff0000" stroke-width="4.1" stroke-linejoin="round" stroke-linecap="round"/>
<path d="M61.2 482.7L66.2 492.9L56.2 492.9Z" fill="url(#t8)" stroke="#600000" stroke-width="0.9" stroke-linejoin="miter"/>
<path d="M82.4 482.1L87.4 492.3L77.4 492.3Z" fill="url(#t8)" stroke="#600000" stroke-width="0.9" stroke-linejoin="miter"/>
<path d="M103.6 480.2L108.6 490.4L98.6 490.4Z" fill="url(#t8)" stroke="#600000" stroke-width="0.9" stroke-linejoin="miter"/>
<path d="M124.8 480.0L129.8 490.2L119.8 490.2Z" fill="url(#t8)" stroke="#600000" stroke-width="0.9" stroke-linejoin="miter"/>
<path d="M146.0 479.9L151.0 490.1L141.0 490.1Z" fill="url(#t8)" stroke="#600000" stroke-width="0.9" stroke-linejoin="miter"/>
<path d="M167.2 479.9L172.2 490.1L162.2 490.1Z" fill="url(#t8)" stroke="#600000" stroke-width="0.9" stroke-linejoin="miter"/>
<path d="M188.4 479.9L193.4 490.1L183.4 490.1Z" fill="url(#t8)" stroke="#600000" stroke-width="0.9" stroke-linejoin="miter"/>
<path d="M209.6 479.9L214.6 490.1L204.6 490.1Z" fill="url(#t8)" stroke="#600000" stroke-width="0.9" stroke-linejoin="miter"/>
<path d="M230.8 479.9L235.8 490.1L225.8 490.1Z" fill="url(#t8)" stroke="#600000" stroke-width="0.9" stroke-linejoin="miter"/>
<path d="M252.0 479.9L257.0 490.1L247.0 490.1Z" fill="url(#t8)" stroke="#600000" stroke-width="0.9" stroke-linejoin="miter"/>
<path d="M273.2 479.9L278.2 490.1L268.2 490.1Z" fill="url(#t8)" stroke="#600000" stroke-width="0.9" stroke-linejoin="miter"/>
<path d="M294.4 480.2L299.4 490.4L289.4 490.4Z" fill="url(#t8)" stroke="#600000" stroke-width="0.9" stroke-linejoin="miter"/>
<path d="M61.2 486.1L82.4 486.2L103.6 486.2L124.8 486.4L146.0 486.4L167.2 486.5L188.4 486.5L209.6 486.5L230.8 486.5L252.0 486.5L273.2 486.5L294.4 486.5" fill="none" stroke="#8a2cf5" stroke-width="4.1" stroke-linejoin="round" stroke-linecap="round"/>
<path d="M61.2 481.0L66.2 491.2L56.2 491.2Z" fill="url(#t9)" stroke="#2a1050" stroke-width="0.9" stroke-linejoin="miter"/>
<path d="M82.4 481.1L87.4 491.3L77.4 491.3Z" fill="url(#t9)" stroke="#2a1050" stroke-width="0.9" stroke-linejoin="miter"/>
<path d="M103.6 481.1L108.6 491.3L98.6 491.3Z" fill="url(#t9)" stroke="#2a1050" stroke-width="0.9" stroke-linejoin="miter"/>
<path d="M124.8 481.3L129.8 491.5L119.8 491.5Z" fill="url(#t9)" stroke="#2a1050" stroke-width="0.9" stroke-linejoin="miter"/>
<path d="M146.0 481.3L151.0 491.5L141.0 491.5Z" fill="url(#t9)" stroke="#2a1050" stroke-width="0.9" stroke-linejoin="miter"/>
<path d="M167.2 481.4L172.2 491.6L162.2 491.6Z" fill="url(#t9)" stroke="#2a1050" stroke-width="0.9" stroke-linejoin="miter"/>
<path d="M188.4 481.4L193.4 491.6L183.4 491.6Z" fill="url(#t9)" stroke="#2a1050" stroke-width="0.9" stroke-linejoin="miter"/>
<path d="M209.6 481.4L214.6 491.6L204.6 491.6Z" fill="url(#t9)" stroke="#2a1050" stroke-width="0.9" stroke-linejoin="miter"/>
<path d="M230.8 481.4L235.8 491.6L225.8 491.6Z" fill="url(#t9)" stroke="#2a1050" stroke-width="0.9" stroke-linejoin="miter"/>
<path d="M252.0 481.4L257.0 491.6L247.0 491.6Z" fill="url(#t9)" stroke="#2a1050" stroke-width="0.9" stroke-linejoin="miter"/>
<path d="M273.2 481.4L278.2 491.6L268.2 491.6Z" fill="url(#t9)" stroke="#2a1050" stroke-width="0.9" stroke-linejoin="miter"/>
<path d="M294.4 481.4L299.4 491.6L289.4 491.6Z" fill="url(#t9)" stroke="#2a1050" stroke-width="0.9" stroke-linejoin="miter"/>
<path d="M313.2 332.3H339.8" stroke="#4e7d2a" stroke-width="2.3"/>
<circle cx="327.0" cy="332.3" r="2.5" fill="url(#s6)" stroke="#1c300c" stroke-width="0.6"/>
<text class="b" transform="translate(342.2 335.1) scale(1 1)" font-size="7.5">MT-6T</text>
<path d="M313.2 348.3H339.8" stroke="#3a14f0" stroke-width="2.3"/>
<circle cx="327.0" cy="348.3" r="2.5" fill="url(#s7)" stroke="#0c0460" stroke-width="0.6"/>
<text class="b" transform="translate(342.2 351.1) scale(1 1)" font-size="7.5">MT-7T</text>
<path d="M313.2 364.4H339.8" stroke="#00e8f0" stroke-width="2.3"/>
<circle cx="327.0" cy="364.4" r="2.5" fill="url(#s8)" stroke="#065a60" stroke-width="0.6"/>
<text class="b" transform="translate(342.2 367.2) scale(1 1)" font-size="7.5">MT-8T</text>
<path d="M313.2 380.4H339.8" stroke="#00e050" stroke-width="2.3"/>
<circle cx="327.0" cy="380.4" r="2.5" fill="url(#s9)" stroke="#075a20" stroke-width="0.6"/>
<text class="b" transform="translate(342.2 383.2) scale(1 1)" font-size="7.5">MT-9T</text>
<path d="M313.2 396.4H339.8" stroke="#000000" stroke-width="2.3"/>
<path d="M327.0 393.5L329.8 399.7L324.2 399.7Z" fill="url(#t6)" stroke="#000" stroke-width="1.0" stroke-linejoin="miter"/>
<text class="b" transform="translate(342.2 399.2) scale(1 1)" font-size="7.5">MT-CNFET-6T</text>
<path d="M313.2 412.5H339.8" stroke="#d810cc" stroke-width="2.3"/>
<path d="M327.0 409.6L329.8 415.8L324.2 415.8Z" fill="url(#t7)" stroke="#4a0a50" stroke-width="1.0" stroke-linejoin="miter"/>
<text class="b" transform="translate(342.2 415.3) scale(1 1)" font-size="7.5">MT-CNFET-7T</text>
<path d="M313.2 428.5H339.8" stroke="#ff0000" stroke-width="2.3"/>
<path d="M327.0 425.6L329.8 431.8L324.2 431.8Z" fill="url(#t8)" stroke="#600000" stroke-width="1.0" stroke-linejoin="miter"/>
<text class="b" transform="translate(342.2 431.3) scale(1 1)" font-size="7.5">MT-CNFET-8T</text>
<path d="M313.2 444.5H339.8" stroke="#8a2cf5" stroke-width="2.3"/>
<path d="M327.0 441.6L329.8 447.8L324.2 447.8Z" fill="url(#t9)" stroke="#2a1050" stroke-width="1.0" stroke-linejoin="miter"/>
<text class="b" transform="translate(342.2 447.3) scale(1 1)" font-size="7.5">MT-CNFET-9T</text>
<text x="208.3" y="545.2" font-size="13" text-anchor="middle">(<tspan class="b">b</tspan>)</text>
</svg></body></html>
